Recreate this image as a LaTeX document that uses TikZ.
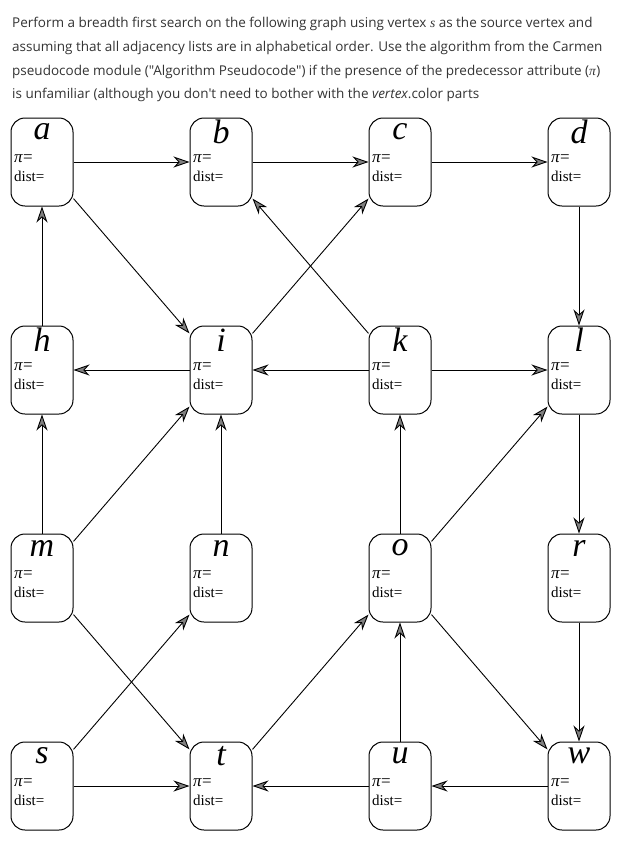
\documentclass[tikz,border=0pt]{standalone}
\usepackage{fontspec}
\setmainfont{Liberation Serif}
\newfontfamily\hdr{Open Sans}
\usetikzlibrary{arrows.meta}
\begin{document}
\begin{tikzpicture}[x=1pt,y=-1pt,
 vx/.style={draw,line width=1pt,rounded corners=14pt,minimum width=62pt,minimum height=88pt,inner sep=0pt},
 lt/.style={font=\fontsize{34}{34}\selectfont\itshape},
 pi/.style={anchor=west,inner sep=0pt,font=\fontsize{17}{17}\selectfont},
 ds/.style={anchor=west,inner sep=0pt,font=\fontsize{15}{15}\selectfont},
 ed/.style={line width=0.9pt,-{Stealth[length=16pt,width=11pt,inset=5pt,fill=gray]}},
 hl/.style={anchor=west,inner sep=0pt,font=\hdr\fontsize{13.5}{14}\selectfont,text=black!80}]
\useasboundingbox (0,0) rectangle (624,841);
\clip (0,0) rectangle (624,841);
\node[hl] (t1) at (12,24) {Perform a breadth first search on the following graph using vertex \textit{\fontspec{Liberation Serif}s} as the source vertex and};
\node[hl] (t2) at (12,48) {assuming that all adjacency lists are in alphabetical order. Use the algorithm from the Carmen};
\node[hl] (t3) at (12,72) {pseudocode module ("Algorithm Pseudocode") if the presence of the predecessor attribute (\textit{\fontspec{Liberation Serif}π})};
\node[hl] (t4) at (12,95) {is unfamiliar (although you don't need to bother with the \textit{vertex}.color parts};
\foreach \n/\x/\y in {a/42/162,b/221/162,c/400/162,d/579/162,
 h/42/370,i/221/370,k/400/370,l/579/370,
 m/42/578,n/221/578,o/400/578,r/579/578,
 s/42/786,t/221/786,u/400/786,w/579/786}{
 \node[vx] (\n) at (\x,\y) {};
 \node[lt] (\n L) at (\x,\y-30) {\ifx\n w\textup{w}\else\ifx\n c\textup{c}\else\ifx\n o\textup{o}\else\ifx\n s\textup{s}\else\ifx\n u\textup{u}\else\n\fi\fi\fi\fi\fi};
 \node[pi] (\n P) at (\x-28,\y-3) {\textit{π}=};
 \node[ds] (\n D) at (\x-28,\y+14) {dist=};
}
\draw[ed] (a) -- (b);
\draw[ed] (b) -- (c);
\draw[ed] (c) -- (d);
\draw[ed] (a) -- (i);
\draw[ed] (k) -- (b);
\draw[ed] (i) -- (c);
\draw[ed] (d) -- (l);
\draw[ed] (h) -- (a);
\draw[ed] (i) -- (h);
\draw[ed] (k) -- (i);
\draw[ed] (k) -- (l);
\draw[ed] (m) -- (h);
\draw[ed] (m) -- (i);
\draw[ed] (n) -- (i);
\draw[ed] (o) -- (k);
\draw[ed] (o) -- (l);
\draw[ed] (l) -- (r);
\draw[ed] (m) -- (t);
\draw[ed] (s) -- (n);
\draw[ed] (s) -- (t);
\draw[ed] (t) -- (o);
\draw[ed] (u) -- (o);
\draw[ed] (u) -- (t);
\draw[ed] (o) -- (w);
\draw[ed] (r) -- (w);
\draw[ed] (w) -- (u);
\end{tikzpicture}
\end{document}
